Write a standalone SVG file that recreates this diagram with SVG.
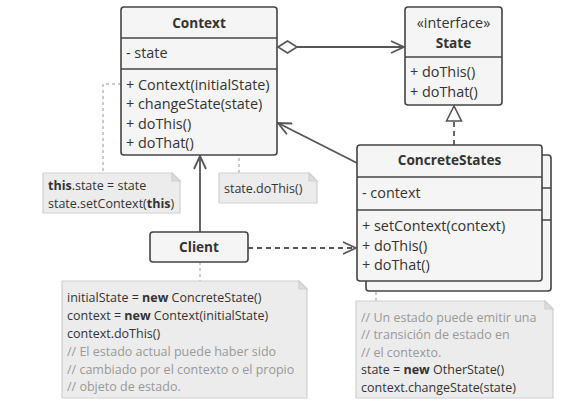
<svg xmlns="http://www.w3.org/2000/svg" width="567" height="409" viewBox="0 0 567 409">
<defs>
<style>
.box{fill:#f5f5f5;stroke:#444;stroke-width:1.6}
.div{stroke:#444;stroke-width:1.6}
.t{font-family:"Open Sans","Liberation Sans",sans-serif;font-size:14.4px;fill:#333}
.b{font-weight:bold;font-size:13.6px}
.n{font-family:"Open Sans","Liberation Sans",sans-serif;font-size:12.5px;fill:#333}
.nb{font-weight:bold}
.c{fill:#999}
.note{fill:#ececec;stroke:#cfcfcf;stroke-width:1.2}
.ear{fill:#dcdcdc;stroke:#cfcfcf;stroke-width:1.2}
.edge{fill:none;stroke:#555;stroke-width:1.8}
.dot{fill:none;stroke:#bbb;stroke-width:1.5;stroke-dasharray:3 3}
</style>
<marker id="open" markerWidth="16" markerHeight="14" refX="14" refY="7" orient="auto" markerUnits="userSpaceOnUse">
<path d="M1,1 L14,7 L1,13" fill="none" stroke="#555" stroke-width="1.8"/>
</marker>
<marker id="tri" markerWidth="20" markerHeight="18" refX="17" refY="9" orient="auto" markerUnits="userSpaceOnUse">
<path d="M2,1.5 L17,9 L2,16.5 Z" fill="#fff" stroke="#555" stroke-width="1.6"/>
</marker>
<marker id="dia" markerWidth="22" markerHeight="14" refX="1" refY="7" orient="auto" markerUnits="userSpaceOnUse">
<path d="M1,7 L10.5,1 L20,7 L10.5,13 Z" fill="#fff" stroke="#555" stroke-width="1.6"/>
</marker>
</defs>
<rect width="567" height="409" fill="#fff"/>

<g id="connectors">
<path class="edge" d="M278,47 L404,47" marker-start="url(#dia)" marker-end="url(#open)"/>
<path class="edge" d="M357,163 L278,123" marker-end="url(#open)"/>
<path class="edge" d="M454,145 L454,106" stroke-dasharray="5 4" marker-end="url(#tri)"/>
<path class="edge" d="M200,232 L200,156" marker-end="url(#open)"/>
<path class="edge" d="M248,248 L356,248" stroke-dasharray="5 4" marker-end="url(#open)"/>
<path class="dot" d="M121,84 L103,84 L103,173"/>
<path class="dot" d="M207,124 L239,124 L239,173"/>
<path class="dot" d="M200,262 L200,281"/>
<path class="dot" d="M376,292 L376,301"/>
<circle cx="204" cy="124" r="3" fill="#fff" stroke="#aaa" stroke-width="1.3"/>
</g>

<g id="Context">
<rect class="box" x="121" y="7" width="156" height="148" rx="3"/>
<line class="div" x1="121" y1="38" x2="277" y2="38"/>
<line class="div" x1="121" y1="69" x2="277" y2="69"/>
<text class="t b" x="199" y="28" text-anchor="middle">Context</text>
<text class="t" x="126" y="58">- state</text>
<text class="t" x="126" y="89.5">+ Context(initialState)</text>
<text class="t" x="126" y="109">+ changeState(state)</text>
<text class="t" x="126" y="128.5">+ doThis()</text>
<text class="t" x="126" y="148">+ doThat()</text>
</g>

<g id="State">
<rect class="box" x="405" y="7" width="97" height="98" rx="3"/>
<line class="div" x1="405" y1="57" x2="502" y2="57"/>
<text class="t" x="453.5" y="28" text-anchor="middle">«interface»</text>
<text class="t b" x="453.5" y="48" text-anchor="middle">State</text>
<text class="t" x="410" y="77">+ doThis()</text>
<text class="t" x="410" y="97">+ doThat()</text>
</g>

<g id="ConcreteStates">
<rect class="box" x="366" y="155" width="185" height="136" rx="3"/>
<line class="div" x1="366" y1="188" x2="551" y2="188"/>
<line class="div" x1="366" y1="220" x2="551" y2="220"/>
<rect class="box" x="357" y="145" width="185" height="136" rx="3"/>
<line class="div" x1="357" y1="177" x2="542" y2="177"/>
<line class="div" x1="357" y1="210" x2="542" y2="210"/>
<text class="t b" x="449.5" y="165" text-anchor="middle">ConcreteStates</text>
<text class="t" x="362" y="198">- context</text>
<text class="t" x="362" y="231">+ setContext(context)</text>
<text class="t" x="362" y="250.5">+ doThis()</text>
<text class="t" x="362" y="270">+ doThat()</text>
</g>

<g id="Client">
<rect class="box" x="150" y="232" width="98" height="30" rx="3"/>
<text class="t b" x="199" y="252" text-anchor="middle">Client</text>
</g>

<g id="note-context">
<path class="note" d="M43,173 L172,173 L180,181 L180,213 L43,213 Z"/>
<path class="ear" d="M172,173 L172,181 L180,181 Z"/>
<text class="n" x="48" y="190"><tspan class="nb">this</tspan>.state = state</text>
<text class="n" x="48" y="208">state.setContext(<tspan class="nb">this</tspan>)</text>
</g>

<g id="note-dothis">
<path class="note" d="M219,173 L309,173 L317,181 L317,203 L219,203 Z"/>
<path class="ear" d="M309,173 L309,181 L317,181 Z"/>
<text class="n" x="224" y="193">state.doThis()</text>
</g>

<g id="note-client">
<path class="note" d="M62,281 L299,281 L307,289 L307,398 L62,398 Z"/>
<path class="ear" d="M299,281 L299,289 L307,289 Z"/>
<text class="n" x="67" y="302">initialState = <tspan class="nb">new</tspan> ConcreteState()</text>
<text class="n" x="67" y="320">context = <tspan class="nb">new</tspan> Context(initialState)</text>
<text class="n" x="67" y="338">context.doThis()</text>
<text class="n c" x="67" y="355.5">// El estado actual puede haber sido</text>
<text class="n c" x="67" y="373.5">// cambiado por el contexto o el propio</text>
<text class="n c" x="67" y="391">// objeto de estado.</text>
</g>

<g id="note-state">
<path class="note" d="M356,301 L545,301 L553,309 L553,398 L356,398 Z"/>
<path class="ear" d="M545,301 L545,309 L553,309 Z"/>
<text class="n c" x="361" y="321.5">// Un estado puede emitir una</text>
<text class="n c" x="361" y="339">// transición de estado en</text>
<text class="n c" x="361" y="356.5">// el contexto.</text>
<text class="n" x="361" y="374">state = <tspan class="nb">new</tspan> OtherState()</text>
<text class="n" x="361" y="391.5">context.changeState(state)</text>
</g>
</svg>
